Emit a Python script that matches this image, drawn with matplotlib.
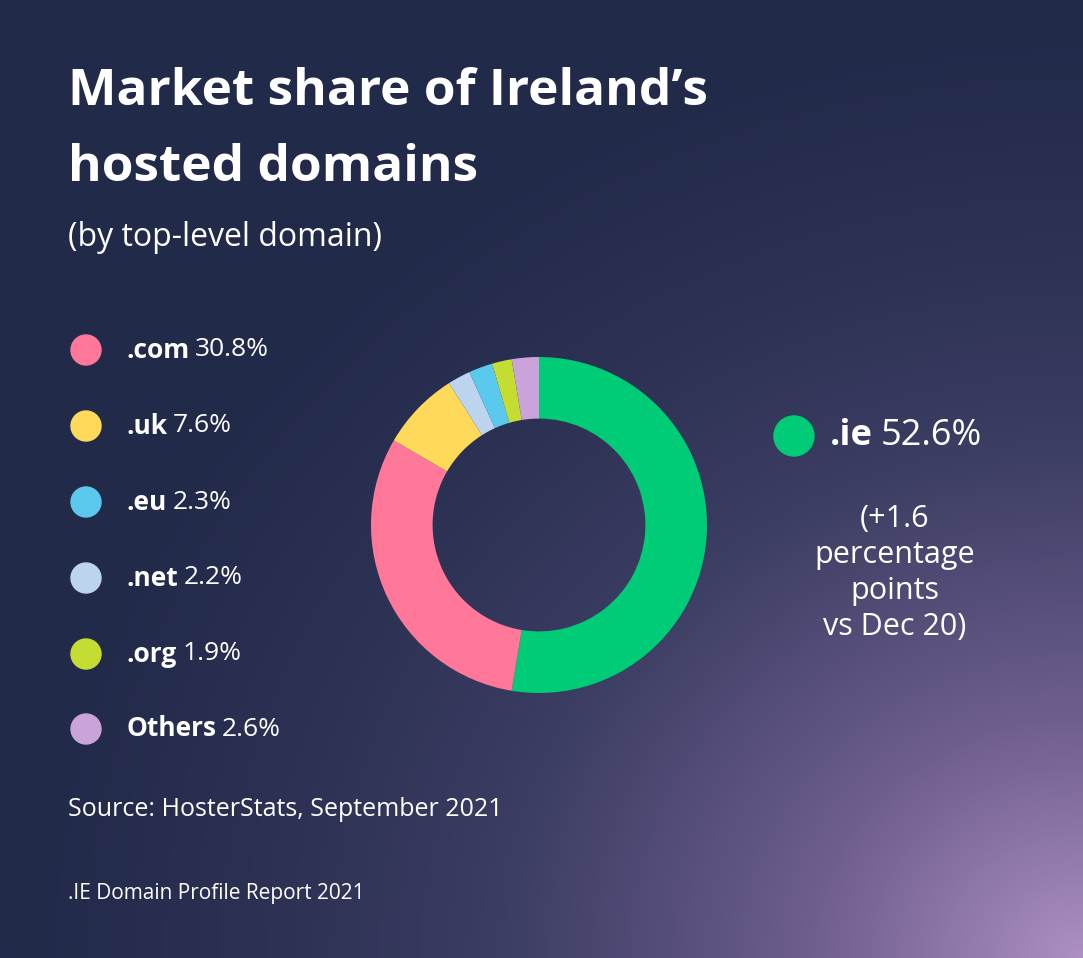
import matplotlib
matplotlib.use("Agg")
import matplotlib.pyplot as plt
import numpy as np
from matplotlib.colors import LinearSegmentedColormap
from matplotlib.patches import Ellipse

labels = [".ie", ".com", ".uk", ".net", ".eu", ".org", "Others"]
values = [52.6, 30.8, 7.6, 2.2, 2.3, 1.9, 2.6]
colors = ["#00cc77", "#ff7799", "#ffd95a", "#bcd4ee", "#5bc8ee", "#c5dd33", "#c9a3d9"]
legend_order = [".com", ".uk", ".eu", ".net", ".org", "Others"]

W, H = 1083, 958
fig = plt.figure(figsize=(W/100, H/100), dpi=100)
plt.rcParams['font.family'] = ['Open Sans', 'DejaVu Sans']

bg = fig.add_axes([0, 0, 1, 1]); bg.axis('off')
yy, xx = np.mgrid[0:1:400j, 0:1:450j]
d = np.hypot(1 - xx, yy)
tt = np.clip(1 - d / 1.0, 0, 1) ** 1.4
cmap = LinearSegmentedColormap.from_list("bg", ["#222a4a", "#3b3d62", "#6e5e8e", "#ad8fc3"])
bg.imshow(tt, cmap=cmap, extent=[0, 1, 0, 1], origin='lower', aspect='auto', vmin=0, vmax=1)
bg.set_xlim(0, 1); bg.set_ylim(0, 1)

def fx(px): return px / W
def fy(py): return 1 - py / H

fig.text(fx(68), fy(92), "Market share of Ireland’s", color='white', fontsize=37, fontweight='bold', va='center')
fig.text(fx(68), fy(168), "hosted domains", color='white', fontsize=37, fontweight='bold', va='center')
fig.text(fx(68), fy(238), "(by top-level domain)", color='white', fontsize=23, va='center')

ax = fig.add_axes([fx(539 - 210), fy(525 + 210), 420 / W, 420 / H])
ax.pie(values, colors=colors, startangle=90, counterclock=False,
       wedgeprops=dict(width=77/210, edgecolor='none'), radius=1)
ax.set_aspect('equal'); ax.axis('off')

leg_y = [350, 426, 502, 578, 654, 729]
for name, y in zip(legend_order, leg_y):
    i = labels.index(name)
    fig.add_artist(Ellipse((fx(86), fy(y)), 30 / W, 30 / H, transform=fig.transFigure, color=colors[i]))
    t1 = fig.text(fx(126), fy(y), name, color='white', fontsize=19, fontweight='bold', va='center')
    fig.canvas.draw()
    bb = t1.get_window_extent()
    fig.text(bb.x1 / W + 6 / W, fy(y), f"{values[i]}%", color='white', fontsize=19, va='center')

fig.add_artist(Ellipse((fx(794), fy(436)), 40 / W, 40 / H, transform=fig.transFigure, color=colors[0]))
t2 = fig.text(fx(830), fy(436), ".ie", color='white', fontsize=26, fontweight='bold', va='center')
fig.canvas.draw()
bb = t2.get_window_extent()
fig.text(bb.x1 / W + 8 / W, fy(436), f"{values[0]}%", color='white', fontsize=26, va='center')
fig.text(fx(895), fy(573), "(+1.6\npercentage\npoints\nvs Dec 20)", color='white', fontsize=22,
         ha='center', va='center', linespacing=1.25)

fig.text(fx(68), fy(810), "Source: HosterStats, September 2021", color='white', fontsize=18, va='center')
fig.text(fx(68), fy(893), ".IE Domain Profile Report 2021", color='white', fontsize=15, va='center')

fig.savefig("out.png", dpi=100)
